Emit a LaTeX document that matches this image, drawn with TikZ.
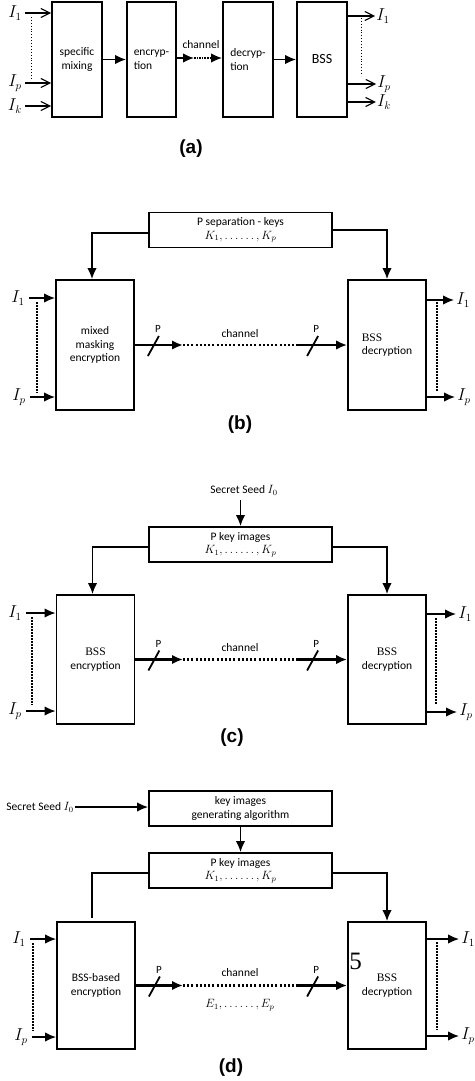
\documentclass[tikz,border=0pt]{standalone}
\usepackage{fontspec}
\setsansfont{Carlito}
\newfontfamily\capfont{Liberation Sans}
\newfontfamily\serfont{Liberation Serif}
\usetikzlibrary{arrows.meta}
\tikzset{
  blk_n/.style = {draw=black, line width=1.8pt, inner sep=0pt, align=center,
    font=\sffamily\fontsize{11.5}{13.5}\selectfont},
  key_n/.style = {blk_n, minimum width=183pt, minimum height=35pt},
  tall_n/.style = {blk_n, minimum width=78pt, minimum height=129pt},
  slim_n/.style = {blk_n, minimum width=50pt, minimum height=115pt},
  io_n/.style = {inner sep=0pt, font=\fontsize{16}{16}\selectfont},
  txt_n/.style = {inner sep=0pt, font=\sffamily\fontsize{11.5}{13.5}\selectfont},
  p_n/.style = {inner sep=0pt, font=\sffamily\fontsize{11}{11}\selectfont},
  cap_n/.style = {inner sep=0pt, font=\capfont\bfseries\fontsize{19}{19}\selectfont},
  open_a/.style = {line width=1.1pt, -{Straight Barb[length=9pt,width=9pt]}},
  fill_a/.style = {line width=1.6pt, -{Latex[length=11pt,width=9.5pt]}},
  chan_a/.style = {line width=2.3pt, -{Latex[length=11pt,width=9.5pt]}},
  chan_d/.style = {line width=2.3pt, dash pattern=on 2pt off 2.2pt},
  vdots_l/.style = {line width=1.9pt, dash pattern=on 1.5pt off 1.5pt},
  slash_l/.style = {line width=1.8pt}}

\begin{document}
\begin{tikzpicture}[x=1pt,y=-1pt]
\useasboundingbox (0,0) rectangle (474,1081);

% (a) mixing and encryption chain
\node [slim_n] (mixA) at (77,59.5) {specific\\mixing};
\node [slim_n, minimum width=49pt, align=left] (encA) at (151.5,59.5) {encryp-\\tion};
\node [slim_n, align=left] (decA) at (248,59.5) {decryp-\\tion};
\node [slim_n, font=\sffamily\fontsize{14}{14}\selectfont] (bssA) at (322,59.5) {BSS};
\node [io_n] (inA1) at (15,13) {$I_1$};
\node [io_n] (inAp) at (15,83) {$I_p$};
\node [io_n] (inAk) at (15,106) {$I_k$};
\draw [open_a] ([xshift=3pt]inA1.east) -- (inA1 -| mixA.west);
\draw [open_a] ([xshift=3pt]inAp.east) -- (inAp -| mixA.west);
\draw [open_a] ([xshift=3pt]inAk.east) -- (inAk -| mixA.west);
\coordinate (dA1) at (31,17);
\coordinate (dA2) at (31,78);
\draw [dotted, line width=0.9pt] (dA1) -- (dA2);
\draw [fill_a] (mixA) -- (encA);
\coordinate (chA) at (194,58);
\draw [fill_a] (encA.east |- chA) -- (chA);
\draw [fill_a, densely dotted] (chA) -- (chA -| decA.west);
\node [txt_n] (chanA) at (201,45) {channel};
\draw [fill_a] (decA) -- (bssA);
\node [io_n] (outA1) at (383,16) {$I_1$};
\node [io_n] (outAp) at (384,84) {$I_p$};
\node [io_n] (outAk) at (384,102) {$I_k$};
\draw [open_a] (outA1 -| bssA.east) -- ([xshift=-1pt]outA1.west);
\draw [open_a] (outAp -| bssA.east) -- ([xshift=-1pt]outAp.west);
\draw [open_a] (outAk -| bssA.east) -- ([xshift=-1pt]outAk.west);
\coordinate (dA3) at (361,18);
\coordinate (dA4) at (361,76);
\draw [dotted, line width=0.9pt] (dA3) -- (dA4);
\node [cap_n] (capA) at (191,149) {(a)};

% (b) separation keys
\node [key_n] (keyB) at (240.5,230) {P separation - keys\\$K_1,\ldots\ldots,K_p$};
\node [tall_n, minimum height=130pt] (encB) at (95,345) {mixed\\masking\\encryption};
\node [tall_n, minimum height=130pt, align=left] (decB) at (387,345) {{\serfont BSS}\\decryption};
\draw [fill_a] ([yshift=-3pt]keyB.west) -| ([xshift=-3pt]encB.north);
\draw [fill_a] (keyB.east) -| (decB.north);
\node [io_n] (inB1) at (18,298) {$I_1$};
\node [io_n] (inBp) at (19,397) {$I_p$};
\draw [fill_a] ([xshift=4pt]inB1.east) -- (inB1 -| encB.west);
\draw [fill_a] ([xshift=4pt]inBp.east) -- (inBp -| encB.west);
\coordinate (dB1) at (37,302);
\coordinate (dB2) at (37,393);
\draw [vdots_l] (dB1) -- (dB2);
\coordinate (chB1) at (183,345);
\coordinate (chB2) at (296,345);
\draw [chan_a] (encB.east) -- (chB1);
\draw [chan_d] (chB1) -- (chB2);
\draw [chan_a] (chB2) -- (decB.west);
\draw [slash_l] ([xshift=13pt,yshift=-11pt]encB.east) -- ([xshift=24pt,yshift=9pt]encB.east);
\draw [slash_l] ([xshift=-40pt,yshift=-11pt]decB.west) -- ([xshift=-29pt,yshift=9pt]decB.west);
\node [p_n] (pB1) at ([xshift=23pt,yshift=16pt]encB.east) {P};
\node [p_n] (pB2) at ([xshift=-31pt,yshift=16pt]decB.west) {P};
\node [txt_n] (chanB) at (240,334) {channel};
\node [io_n] (outB1) at (463,300) {$I_1$};
\node [io_n] (outBp) at (464,397) {$I_p$};
\draw [fill_a] (outB1 -| decB.east) -- ([xshift=-2pt]outB1.west);
\draw [fill_a] (outBp -| decB.east) -- ([xshift=-2pt]outBp.west);
\coordinate (dB3) at (437,302);
\coordinate (dB4) at (437,392);
\draw [vdots_l] (dB3) -- (dB4);
\node [cap_n] (capB) at (240,425) {(b)};

% (c) secret seed and key images
\node [txt_n] (seedC) at (244,490) {Secret Seed $I_0$};
\node [key_n] (keyC) at (240.5,544.5) {P key images\\$K_1,\ldots\ldots,K_p$};
\draw [fill_a] ([yshift=-5pt]keyC.north |- seedC.south) -- (keyC.north);
\node [tall_n] (encC) at (95.5,659.5) {{\serfont BSS}\\encryption};
\node [tall_n] (decC) at (387,659.5) {{\serfont BSS}\\decryption};
\draw [fill_a] ([yshift=-2.5pt]keyC.west) -| ([xshift=-3pt]encC.north);
\draw [fill_a] ([yshift=-2.5pt]keyC.east) -| (decC.north);
\node [io_n] (inC1) at (15,613) {$I_1$};
\node [io_n] (inCp) at (15,711) {$I_p$};
\draw [fill_a] ([xshift=4pt]inC1.east) -- (inC1 -| encC.west);
\draw [fill_a] ([xshift=4pt]inCp.east) -- (inCp -| encC.west);
\coordinate (dC1) at (32,617);
\coordinate (dC2) at (32,705);
\draw [vdots_l] (dC1) -- (dC2);
\coordinate (chC1) at (183,659.5);
\coordinate (chC2) at (296,659.5);
\draw [chan_a] (encC.east) -- (chC1);
\draw [chan_d] (chC1) -- (chC2);
\draw [chan_a] (chC2) -- (decC.west);
\draw [slash_l] ([xshift=13pt,yshift=-11pt]encC.east) -- ([xshift=24pt,yshift=9pt]encC.east);
\draw [slash_l] ([xshift=-40pt,yshift=-11pt]decC.west) -- ([xshift=-29pt,yshift=9pt]decC.west);
\node [p_n] (pC1) at ([xshift=23pt,yshift=16pt]encC.east) {P};
\node [p_n] (pC2) at ([xshift=-31pt,yshift=16pt]decC.west) {P};
\node [txt_n] (chanC) at (240,648) {channel};
\node [io_n] (outC1) at (465,614) {$I_1$};
\node [io_n] (outCp) at (466,712) {$I_p$};
\draw [fill_a] (outC1 -| decC.east) -- ([xshift=-2pt]outC1.west);
\draw [fill_a] (outCp -| decC.east) -- ([xshift=-2pt]outCp.west);
\coordinate (dC3) at (436,618);
\coordinate (dC4) at (436,704);
\draw [vdots_l] (dC3) -- (dC4);
\node [cap_n] (capC) at (232,738) {(c)};

% (d) generated key images
\node [txt_n] (seedD) at (40,807) {Secret Seed $I_0$};
\node [key_n] (genD) at (240.5,808.5) {key images\\generating algorithm};
\draw [fill_a] ([xshift=1pt]seedD.east) -- (seedD.east -| genD.west);
\node [key_n] (keyD) at (240.5,870.5) {P key images\\$K_1,\ldots\ldots,K_p$};
\draw [fill_a] (genD) -- (keyD);
\node [tall_n, minimum height=127pt] (encD) at (96,985.5) {BSS-based\\encryption};
\node [tall_n, minimum height=127pt] (decD) at (387,985.5) {{\serfont BSS}\\decryption};
\node [inner sep=0pt, font=\serfont\fontsize{25}{25}\selectfont] (fiveD) at (355.5,961) {5};
\coordinate (upD) at (92,918);
\draw [line width=1.6pt] ([yshift=-2.5pt]keyD.west) -| (upD);
\draw [fill_a] ([yshift=-2.5pt]keyD.east) -| (decD.north);
\node [io_n] (inD1) at (19,939) {$I_1$};
\node [io_n] (inDp) at (21,1037) {$I_p$};
\draw [fill_a] ([xshift=4pt]inD1.east) -- (inD1 -| encD.west);
\draw [fill_a] ([xshift=4pt]inDp.east) -- (inDp -| encD.west);
\coordinate (dD1) at (33,943);
\coordinate (dD2) at (33,1031);
\draw [vdots_l] (dD1) -- (dD2);
\coordinate (chD1) at (183,985.5);
\coordinate (chD2) at (296,985.5);
\draw [chan_a] (encD.east) -- (chD1);
\draw [chan_d] (chD1) -- (chD2);
\draw [chan_a] (chD2) -- (decD.west);
\draw [slash_l] ([xshift=13pt,yshift=-11pt]encD.east) -- ([xshift=24pt,yshift=9pt]encD.east);
\draw [slash_l] ([xshift=-40pt,yshift=-11pt]decD.west) -- ([xshift=-29pt,yshift=9pt]decD.west);
\node [p_n] (pD1) at ([xshift=23pt,yshift=16pt]encD.east) {P};
\node [p_n] (pD2) at ([xshift=-31pt,yshift=16pt]decD.west) {P};
\node [txt_n] (chanD) at (240,973) {channel};
\node [txt_n] (eD) at (240,1005) {$E_1,\ldots\ldots,E_p$};
\node [io_n] (outD1) at (468,939) {$I_1$};
\node [io_n] (outDp) at (468,1036) {$I_p$};
\draw [fill_a] (outD1 -| decD.east) -- ([xshift=-2pt]outD1.west);
\draw [fill_a] (outDp -| decD.east) -- ([xshift=-2pt]outDp.west);
\coordinate (dD3) at (437,942);
\coordinate (dD4) at (437,1030);
\draw [vdots_l] (dD3) -- (dD4);
\node [cap_n] (capD) at (231,1068) {(d)};
\end{tikzpicture}
\end{document}
